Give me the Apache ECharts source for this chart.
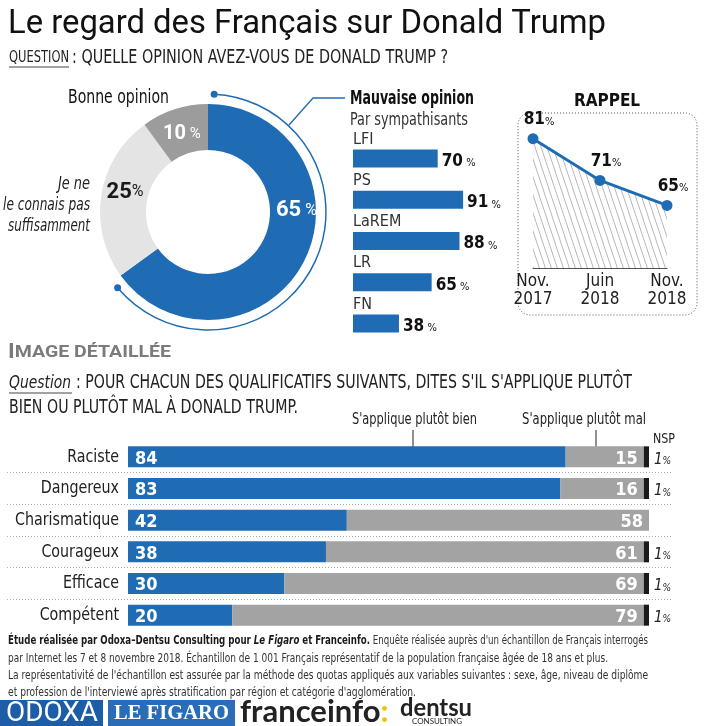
<!DOCTYPE html>
<html>
<head>
<meta charset="utf-8">
<script src="https://cdn.jsdelivr.net/npm/echarts@6/dist/echarts.min.js"></script>
<style>
html, body { margin: 0; padding: 0; background: #fff; }
#chart { width: 704px; height: 726px; }
</style>
</head>
<body>
<div id="chart"></div>
<script>
// données
const opinionLabels = ['Mauvaise opinion', 'Je ne le connais pas suffisamment', 'Bonne opinion'];
const opinionValues = [65, 25, 10];
const parties = ['LFI', 'PS', 'LaREM', 'LR', 'FN'];
const partyValues = [70, 91, 88, 65, 38];
const rappelDates = ['Nov.\n2017', 'Juin\n2018', 'Nov.\n2018'];
const rappelValues = [81, 71, 65];
const traits = ['Raciste', 'Dangereux', 'Charismatique', 'Courageux', 'Efficace', 'Compétent'];
const bienValues = [84, 83, 42, 38, 30, 20];
const malValues = [15, 16, 58, 61, 69, 79];
const nspValues = [1, 1, 0, 1, 1, 1];

const BLUE = '#1f6cb5';
const GREY = '#a3a3a4';
const DARK = '#9c9c9c';
const LIGHT = '#e4e4e5';
const BLACK = '#1a1a1a';
const N = '"Liberation Sans Narrow", "DejaVu Sans Condensed", Roboto, sans-serif';
const R = 'Roboto, "Noto Sans", sans-serif';

// mesure pour ajuster la largeur des textes
const mctx = document.createElement('canvas').getContext('2d');
function measure(parts) {
    return parts.reduce((s, p) => { mctx.font = p[1]; return s + mctx.measureText(p[0]).width; }, 0);
}
function fitText(x, y, text, font, width, fill, extra) {
    const s = width / measure([[text, font]]);
    return { type: 'text', x, y, scaleX: s, silent: true,
        style: Object.assign({ text, font, fill: fill || '#1a1a1a', align: 'left', verticalAlign: 'middle' }, extra || {}) };
}
function txt(x, y, text, font, fill, align) {
    return { type: 'text', x, y, silent: true,
        style: { text, font, fill: fill || '#1a1a1a', align: align || 'left', verticalAlign: 'middle' } };
}

// hachures sous la courbe
function hatch() {
    const c = document.createElement('canvas');
    c.width = 6; c.height = 18;
    const g = c.getContext('2d');
    g.strokeStyle = '#999';
    g.lineWidth = 0.7;
    [-6, 0, 6].forEach(x0 => {
        g.beginPath(); g.moveTo(x0, 0); g.lineTo(x0 + 6, 18); g.stroke();
    });
    return c;
}

const chart = echarts.init(document.getElementById('chart'));

// pied de page
const f1 = [['Étude réalisée par Odoxa–Dentsu Consulting pour ', 'bold 13px ' + N], ['Le Figaro', 'italic bold 13px ' + N],
    [' et Franceinfo.', 'bold 13px ' + N], [" Enquête réalisée auprès d'un échantillon de Français interrogés", '13px ' + N]];
const f1s = 640 / measure(f1);
const footLines = [
    "par Internet les 7 et 8 novembre 2018. Échantillon de 1 001 Français représentatif de la population française âgée de 18 ans et plus.",
    "La représentativité de l'échantillon est assurée par la méthode des quotas appliqués aux variables suivantes : sexe, âge, niveau de diplôme",
    "et profession de l'interviewé après stratification par région et catégorie d'agglomération."
];
const footWidths = [600, 640, 408];
const imgFonts = [['I', 'bold 20px ' + R], ['MAGE DÉTAILLÉE', 'bold 17px ' + R]];
const imgScale = 163 / measure(imgFonts);
const traitFont = '18px ' + N;
const traitScale = 104 / measure([['Charismatique', traitFont]]);
const RIGHT = { align: 'right' };

const cx = 208, cy = 212;
const graphic = [
    fitText(8, 24, 'Le regard des Français sur Donald Trump', '34px ' + R, 598, '#111'),
    fitText(9, 58, 'QUESTION', '15px ' + N, 60, '#222'),
    { type: 'line', silent: true, shape: { x1: 9, y1: 67, x2: 69, y2: 67 }, style: { stroke: '#444', lineWidth: 1 } },
    fitText(72, 58, ': QUELLE OPINION AVEZ-VOUS DE DONALD TRUMP ?', '19px ' + N, 376, '#222'),
    // donut annotations
    fitText(68, 98, 'Bonne opinion', '19px ' + N, 101, '#111'),
    fitText(90, 185, 'Je ne', 'italic 17px ' + N, 32, '#222', RIGHT),
    fitText(90, 206, 'le connais pas', 'italic 17px ' + N, 87, '#222', RIGHT),
    fitText(90, 227, 'suffisamment', 'italic 17px ' + N, 82, '#222', RIGHT),
    { type: 'arc', silent: true, shape: { cx, cy, r: 118, startAngle: -87 * Math.PI / 180, endAngle: 140 * Math.PI / 180, clockwise: true },
      style: { stroke: BLUE, lineWidth: 1.5, fill: null } },
    { type: 'circle', silent: true, shape: { cx: cx + 118 * Math.sin(3 * Math.PI / 180), cy: cy - 118 * Math.cos(3 * Math.PI / 180), r: 3.5 }, style: { fill: BLUE } },
    { type: 'circle', silent: true, shape: { cx: cx + 118 * Math.sin(230 * Math.PI / 180), cy: cy - 118 * Math.cos(230 * Math.PI / 180), r: 3.5 }, style: { fill: BLUE } },
    { type: 'polyline', silent: true, shape: { points: [[289, 125], [313, 98], [345, 98]] }, style: { stroke: BLUE, lineWidth: 1.3, fill: null } },
    fitText(350, 99, 'Mauvaise opinion', 'bold 20px ' + N, 124, '#111'),
    fitText(350, 121, 'Par sympathisants', '17px ' + N, 118, '#333'),
    // rappel
    txt(607, 102, 'RAPPEL', 'bold 17px ' + N, '#111', 'center'),
    { type: 'rect', silent: true, shape: { x: 518, y: 113, width: 179, height: 202, r: 12 },
      style: { fill: null, stroke: '#555', lineWidth: 1, lineDash: [1, 2] } },
    // image détaillée
    { type: 'text', x: 8, y: 353, scaleX: imgScale, silent: true, style: { text: '{a|I}{b|MAGE DÉTAILLÉE}', verticalAlign: 'middle',
        rich: { a: { fontSize: 20, fontWeight: 'bold', fontFamily: R, fill: '#7b7b7b' }, b: { fontSize: 17, fontWeight: 'bold', fontFamily: R, fill: '#7b7b7b' } } } },
    fitText(9, 383, 'Question', 'italic 18px ' + N, 62, '#222'),
    { type: 'line', silent: true, shape: { x1: 9, y1: 393, x2: 72, y2: 393 }, style: { stroke: '#444', lineWidth: 1 } },
    fitText(76, 383, ": POUR CHACUN DES QUALIFICATIFS SUIVANTS, DITES S'IL S'APPLIQUE PLUTÔT", '19px ' + N, 556, '#222'),
    fitText(9, 408, 'BIEN OU PLUTÔT MAL À DONALD TRUMP.', '19px ' + N, 289, '#222'),
    fitText(352, 420, "S'applique plutôt bien", '16px ' + N, 125, '#222'),
    fitText(522, 420, "S'applique plutôt mal", '16px ' + N, 124, '#222'),
    fitText(653, 439, 'NSP', '14px ' + N, 22, '#222'),
    { type: 'line', silent: true, shape: { x1: 413, y1: 430, x2: 413, y2: 456 }, style: { stroke: '#222', lineWidth: 1 } },
    { type: 'circle', silent: true, shape: { cx: 413, cy: 457, r: 2.5 }, style: { fill: '#111' } },
    { type: 'line', silent: true, shape: { x1: 596, y1: 430, x2: 596, y2: 456 }, style: { stroke: '#222', lineWidth: 1 } },
    { type: 'circle', silent: true, shape: { cx: 596, cy: 457, r: 2.5 }, style: { fill: '#111' } },
    // pied
    { type: 'text', x: 8, y: 641, scaleX: f1s, silent: true, style: { verticalAlign: 'middle',
        text: '{b|Étude réalisée par Odoxa–Dentsu Consulting pour }{bi|Le Figaro}{b| et Franceinfo.}{r| Enquête réalisée auprès d\'un échantillon de Français interrogés}',
        rich: { b: { fontSize: 13, fontWeight: 'bold', fontFamily: N, fill: '#1a1a1a' },
                bi: { fontSize: 13, fontWeight: 'bold', fontStyle: 'italic', fontFamily: N, fill: '#1a1a1a' },
                r: { fontSize: 13, fontFamily: N, fill: '#333' } } } },
    ...footLines.map((l, i) => fitText(8, 659 + i * 17, l, '13px ' + N, footWidths[i], '#333')),
    // logos
    { type: 'rect', silent: true, shape: { x: 0, y: 700, width: 103, height: 26 }, style: { fill: '#1d5ca6' } },
    fitText(6, 714, 'ODOXA', '27px ' + R, 92, '#fff'),
    { type: 'rect', silent: true, shape: { x: 108, y: 700, width: 127, height: 26 }, style: { fill: '#2a6cb8' } },
    fitText(114, 714, 'LE FIGARO', 'bold 20px "Liberation Serif", serif', 115, '#fff'),
    { type: 'text', x: 240, y: 712, silent: true, style: { text: '{a|franceinfo}{b|:}', verticalAlign: 'middle',
        rich: { a: { fontSize: 31, fontWeight: 'bold', fontFamily: 'Lato, sans-serif', fill: '#222' }, b: { fontSize: 31, fontWeight: 'bold', fontFamily: 'Lato, sans-serif', fill: '#f2c200' } } } },
    fitText(400, 708, 'dentsu', 'bold 24px Lato, sans-serif', 72, '#222'),
    fitText(412, 722, 'CONSULTING', '7px Lato, sans-serif', 50, '#222', { letterSpacing: 1 })
];

const donutColors = [BLUE, LIGHT, DARK];
const donutLabel = [
    { offset: [10, -41], rich: { v: { fontSize: 22, fontWeight: 'bold', fontFamily: R, color: '#fff' }, p: { fontSize: 16, fontFamily: R, color: '#fff' } } },
    { offset: [4, -6], rich: { v: { fontSize: 22, fontWeight: 'bold', fontFamily: R, color: '#1a1a1a' }, p: { fontSize: 16, fontFamily: R, color: '#1a1a1a' } } },
    { offset: [1, 6], rich: { v: { fontSize: 20, fontWeight: 'bold', fontFamily: R, color: '#fff' }, p: { fontSize: 15, fontFamily: R, color: '#fff' } } }
];

const option = {
    animation: false,
    backgroundColor: '#fff',
    textStyle: { fontFamily: N },
    graphic,
    grid: [
        { left: 353, top: 138, width: 121, height: 206 },
        { left: 533, top: 122, width: 134, height: 146 },
        { left: 128, top: 441, width: 521, height: 190 },
        { left: 7, top: 441, width: 666, height: 190 }
    ],
    xAxis: [
        { gridIndex: 0, type: 'value', min: 0, max: 100, show: false },
        { gridIndex: 1, type: 'category', data: rappelDates, boundaryGap: false,
          axisLine: { lineStyle: { color: '#555', width: 1.2 } }, axisTick: { show: false },
          axisLabel: { fontSize: 17, lineHeight: 18, color: '#222', margin: 5, fontFamily: N } },
        { gridIndex: 2, type: 'value', min: 0, max: 100, show: false },
        { gridIndex: 3, type: 'value', min: 0, max: 1, show: false }
    ],
    yAxis: [
        { gridIndex: 0, type: 'category', data: parties, inverse: true,
          axisLine: { show: false }, axisTick: { show: false },
          axisLabel: { inside: true, margin: 0, fontSize: 16, color: '#333', verticalAlign: 'bottom', padding: [0, 0, 11, 0], fontFamily: N } },
        { gridIndex: 1, type: 'value', min: 50, max: 85, show: false },
        { gridIndex: 2, type: 'category', data: traits, inverse: true,
          axisLine: { show: false }, axisTick: { show: false }, axisLabel: { show: false } },
        { gridIndex: 3, type: 'value', min: 0, max: 6, interval: 1, inverse: true,
          axisLine: { show: false }, axisTick: { show: false }, axisLabel: { show: false },
          splitLine: { show: true, showMinLine: false, showMaxLine: false, lineStyle: { color: '#aaa', type: [1, 2], width: 1 } } }
    ],
    series: [
        {
            type: 'pie', center: [cx, cy], radius: [62, 108], startAngle: 90, clockwise: true, silent: true,
            labelLine: { show: false },
            data: opinionLabels.map((name, i) => ({
                name, value: opinionValues[i], itemStyle: { color: donutColors[i] },
                label: Object.assign({ show: true, position: 'inside',
                    formatter: p => '{v|' + p.value + '}{p|' + (i === 1 ? '%' : ' %') + '}' }, donutLabel[i])
            }))
        },
        {
            type: 'bar', xAxisIndex: 0, yAxisIndex: 0, data: partyValues, barWidth: 18,
            itemStyle: { color: BLUE },
            label: { show: true, position: 'right', distance: 4, offset: [0, 3],
                formatter: p => '{v|' + p.value + '}{p| %}',
                rich: { v: { fontSize: 17, fontWeight: 'bold', color: '#111', fontFamily: N },
                        p: { fontSize: 11, color: '#111', fontFamily: N, padding: [4, 0, 0, 0] } } }
        },
        {
            type: 'line', xAxisIndex: 1, yAxisIndex: 1, data: rappelValues,
            symbol: 'circle', symbolSize: 11,
            lineStyle: { color: BLUE, width: 3 }, itemStyle: { color: BLUE },
            areaStyle: { color: { image: hatch(), repeat: 'repeat' }, opacity: 1 },
            label: { show: true, position: 'top', distance: 5, offset: [6, 0],
                formatter: p => '{v|' + p.value + '}{p|%}',
                rich: { v: { fontSize: 17, fontWeight: 'bold', color: '#111', fontFamily: N },
                        p: { fontSize: 11, color: '#111', fontFamily: N, padding: [4, 0, 0, 0] } } }
        },
        {
            type: 'bar', stack: 'img', xAxisIndex: 2, yAxisIndex: 2, data: bienValues, barWidth: 21,
            itemStyle: { color: BLUE },
            label: { show: true, position: 'insideLeft', distance: 7, offset: [0, 2], color: '#fff', fontSize: 18, fontWeight: 'bold', fontFamily: N }
        },
        {
            type: 'bar', stack: 'img', xAxisIndex: 2, yAxisIndex: 2, data: malValues, barWidth: 21,
            itemStyle: { color: GREY },
            label: { show: true, position: 'insideRight', distance: 6, offset: [0, 2], color: '#fff', fontSize: 18, fontWeight: 'bold', fontFamily: N }
        },
        {
            type: 'bar', stack: 'img', xAxisIndex: 2, yAxisIndex: 2, data: nspValues, barWidth: 21,
            itemStyle: { color: BLACK },
            label: { show: true, position: 'right', distance: 5, offset: [0, 3],
                formatter: p => p.value ? '{v|' + p.value + '}{p|%}' : '',
                rich: { v: { fontSize: 15, fontStyle: 'italic', color: '#222', fontFamily: N },
                        p: { fontSize: 10, fontStyle: 'italic', color: '#222', fontFamily: N, padding: [3, 0, 0, 0] } } }
        }
    ]
};
chart.setOption(option);

// étiquettes des qualificatifs, placées sur l'axe puis resserrées
traits.forEach(t => {
    const y = chart.convertToPixel({ yAxisIndex: 2 }, t);
    option.graphic.push({ type: 'text', x: 119, y: y, scaleX: traitScale, silent: true,
        style: { text: t, font: traitFont, fill: '#222', align: 'right', verticalAlign: 'middle' } });
});
chart.setOption(option, true);
</script>
</body>
</html>
